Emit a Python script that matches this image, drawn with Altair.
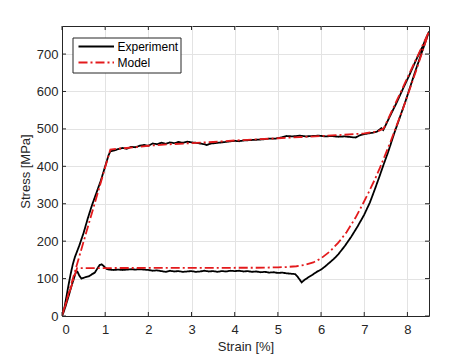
import altair as alt
import pandas as pd

# ---- data ----
exp_strain = [0, 0.05, 0.1, 0.15, 0.2, 0.25, 0.3, 0.34, 0.4, 0.45, 0.5, 0.6, 0.7, 0.8, 0.9, 1.0, 1.08, 1.12,
              1.2, 1.3, 1.4, 1.5, 1.6, 1.7, 1.8, 1.9, 2.0, 2.1, 2.2, 2.3, 2.4, 2.5, 2.6, 2.7, 2.8, 2.9, 3.0,
              3.1, 3.2, 3.3, 3.35, 3.45, 3.55, 3.7, 3.85, 4.0, 4.1, 4.2, 4.35, 4.5, 4.65, 4.8, 4.95, 5.1, 5.2,
              5.35, 5.5, 5.65, 5.8, 5.95, 6.1, 6.25, 6.4, 6.55, 6.7, 6.8, 6.9, 7.0, 7.1, 7.2, 7.3, 7.35, 7.4,
              7.44, 7.48,
              7.6, 7.75, 7.9, 8.05, 8.2, 8.35, 8.5,
              8.2, 7.95, 7.7, 7.55, 7.44, 7.35, 7.25, 7.13, 7.0, 6.85, 6.7, 6.55, 6.4, 6.3, 6.2, 6.1, 6.0, 5.9,
              5.8, 5.7, 5.6, 5.55, 5.5, 5.45, 5.4, 5.3, 5.2, 5.1, 5.0, 4.9, 4.8, 4.7, 4.6, 4.5, 4.4, 4.3,
              4.2, 4.1, 4.0, 3.9, 3.8, 3.7, 3.6, 3.5, 3.4, 3.3, 3.2, 3.1, 3.0, 2.9, 2.8, 2.7, 2.6, 2.5, 2.4,
              2.3, 2.2, 2.1, 2.0, 1.9, 1.8, 1.7, 1.6, 1.5, 1.4, 1.3, 1.2, 1.1, 1.03, 0.97, 0.92, 0.87, 0.82,
              0.76, 0.7, 0.62, 0.55, 0.5, 0.45, 0.4, 0.36, 0.33, 0.28, 0.22, 0.15, 0.08, 0.03, 0]
exp_stress = [0, 18, 50, 82, 112, 138, 158, 170, 188, 205, 222, 262, 298, 330, 362, 400, 430, 440,
              442, 446, 449, 447, 452, 451, 455, 457, 455, 461, 459, 463, 460, 464, 462, 465, 463, 466, 464,
              463, 461, 459, 457, 461, 462, 464, 466, 468, 467, 469, 470, 471, 472, 474, 474, 478, 481,
              480, 482, 480, 481, 482, 480, 481, 479, 480, 478, 477, 483, 486, 488, 490, 493, 498, 502,
              497, 506,
              535, 570, 608, 645, 684, 720, 760,
              660, 572, 490, 437, 402, 372, 340, 303, 271, 240, 212, 187, 165, 153, 143, 133, 124, 118,
              110, 103, 95, 90, 98, 106, 112, 113, 114, 116, 115, 117, 116, 118, 117, 119, 118, 120,
              119, 121, 120, 121, 119, 120, 118, 120, 119, 121, 119, 118, 120, 119, 118, 120, 119, 121, 118,
              120, 122, 121, 123, 124, 125, 124, 125, 124, 123, 124, 123, 124, 126, 133, 138, 136, 127,
              116, 112, 106, 104, 102, 100, 108, 118, 120, 102, 80, 52, 25, 8, 0]

mod_strain = [0, 1.12, 1.5, 2.0, 2.5, 3.0, 3.5, 4.0, 4.5, 5.0, 5.5, 6.0, 6.5, 7.0, 7.3, 7.45, 8.5,
              8.2, 7.9, 7.6, 7.36, 7.25, 7.1, 6.97, 6.8, 6.59, 6.4, 6.2, 6.0, 5.82, 5.6, 5.43, 5.2, 5.0,
              4.5, 0.35, 0]
mod_stress = [0, 445, 449, 455, 459, 462, 465, 469, 472, 475, 478, 481, 484, 488, 493, 501, 760,
              655, 555, 463, 395, 366, 330, 300, 263, 224, 196, 172, 154, 143, 136, 133, 131, 130,
              129, 128, 0]

x_ticks = [0, 1, 2, 3, 4, 5, 6, 7, 8]
y_ticks = [0, 100, 200, 300, 400, 500, 600, 700]
series_names = ["Experiment", "Model"]
series_colors = ["#000000", "#e31a1c"]
series_dash = [[1, 0], [9, 3, 2, 3]]

rows = []
for i, (s, v) in enumerate(zip(exp_strain, exp_stress)):
    rows.append({"series": series_names[0], "idx": i, "strain": s, "stress": v})
for i, (s, v) in enumerate(zip(mod_strain, mod_stress)):
    rows.append({"series": series_names[1], "idx": i, "strain": s, "stress": v})
df = pd.DataFrame(rows)

W, H = 367, 290
FONT = "Liberation Sans"
AX = "#262626"

xscale = alt.Scale(domain=[0, 8.5], nice=False, zero=False)
yscale = alt.Scale(domain=[0, 775], nice=False)

lines = alt.Chart(df).mark_line(strokeWidth=1.8, clip=True).encode(
    x=alt.X("strain:Q", scale=xscale, title="Strain [%]",
            axis=alt.Axis(values=x_ticks, grid=True, tickSize=0, labelPadding=7, format="d")),
    y=alt.Y("stress:Q", scale=yscale, title="Stress [MPa]",
            axis=alt.Axis(values=y_ticks, grid=True, tickSize=0, labelPadding=4, titlePadding=4)),
    color=alt.Color("series:N", scale=alt.Scale(domain=series_names, range=series_colors), legend=None),
    strokeDash=alt.StrokeDash("series:N", scale=alt.Scale(domain=series_names, range=series_dash), legend=None),
    order=alt.Order("idx:Q"),
)

xt = pd.DataFrame({"t": x_ticks})
yt = pd.DataFrame({"t": y_ticks})
xb = alt.Chart(xt).mark_rule(color=AX, strokeWidth=1).encode(
    x=alt.X("t:Q", scale=xscale), y=alt.value(H), y2=alt.value(H - 4))
xtop = alt.Chart(xt).mark_rule(color=AX, strokeWidth=1).encode(
    x=alt.X("t:Q", scale=xscale), y=alt.value(0), y2=alt.value(4))
yl = alt.Chart(yt).mark_rule(color=AX, strokeWidth=1).encode(
    y=alt.Y("t:Q", scale=yscale), x=alt.value(0), x2=alt.value(4))
yr = alt.Chart(yt).mark_rule(color=AX, strokeWidth=1).encode(
    y=alt.Y("t:Q", scale=yscale), x=alt.value(W), x2=alt.value(W - 4))

# ---- manual legend (MATLAB style box) ----
one = pd.DataFrame({"k": [0]})
leg_box = alt.Chart(one).mark_rect(fill="white", stroke=AX, strokeWidth=1).encode(
    x=alt.value(11), x2=alt.value(119), y=alt.value(12), y2=alt.value(47))
leg_items = []
for j, (name, col, dash) in enumerate(zip(series_names, series_colors, series_dash)):
    yy = 20.5 + j * 16
    leg_items.append(alt.Chart(one).mark_rule(color=col, strokeWidth=1.8, strokeDash=dash).encode(
        x=alt.value(16.5), x2=alt.value(52), y=alt.value(yy)))
    leg_items.append(alt.Chart(one).mark_text(align="left", baseline="middle", font=FONT,
                                              fontSize=12, color="#000000").encode(
        x=alt.value(55.5), y=alt.value(yy + 0.5), text=alt.value(name)))

chart = alt.layer(lines, xb, xtop, yl, yr, leg_box, *leg_items).properties(
    width=W, height=H,
    autosize=alt.AutoSizeParams(type="none"),
    padding={"left": 62, "top": 26, "right": 45, "bottom": 39},
    background="white",
).configure_view(
    stroke=AX, strokeWidth=1
).configure_axis(
    labelFont=FONT, titleFont=FONT, labelFontSize=13, titleFontSize=13,
    labelColor=AX, titleColor=AX, domainColor=AX, domainWidth=1,
    gridColor="#e3e3e3", gridWidth=1, titleFontWeight="normal",
)

chart.save("out.html", embed_options={"renderer": "svg", "actions": False})
